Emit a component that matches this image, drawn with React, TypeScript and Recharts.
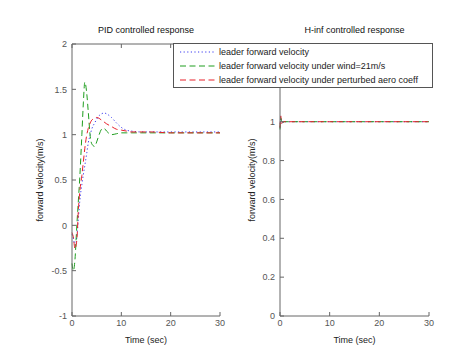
import React from 'react';
import { LineChart, Line, XAxis, YAxis, Legend } from 'recharts';

// ---------- data ----------
const pidTime = [0, 0.3, 0.6, 1, 1.3, 1.6, 2, 2.3, 2.6, 3, 3.3, 3.7, 4, 4.6, 5, 5.5, 6, 6.5, 7, 8, 9, 10, 11, 12, 14, 16, 20, 25, 30];
const pidNominal = [-0.10, -0.15, -0.22, -0.12, 0.08, 0.28, 0.45, 0.56, 0.66, 0.80, 0.91, 1.00, 1.06, 1.13, 1.17, 1.21, 1.23, 1.24, 1.23, 1.19, 1.13, 1.08, 1.05, 1.04, 1.03, 1.03, 1.03, 1.03, 1.03];
const pidWind = [-0.42, -0.50, -0.38, 0.02, 0.28, 0.55, 1.00, 1.35, 1.58, 1.45, 1.25, 0.98, 0.90, 0.87, 0.92, 1.00, 1.06, 1.07, 1.04, 1.00, 1.01, 1.02, 1.02, 1.02, 1.02, 1.02, 1.02, 1.02, 1.02];
const pidPerturbed = [-0.08, -0.14, -0.26, -0.15, 0.18, 0.38, 0.55, 0.70, 0.85, 1.00, 1.07, 1.13, 1.16, 1.18, 1.19, 1.18, 1.16, 1.14, 1.12, 1.09, 1.06, 1.05, 1.04, 1.03, 1.03, 1.03, 1.02, 1.02, 1.02];

const hinfTime = [0, 0.15, 0.3, 0.5, 0.8, 1.2, 2, 5, 10, 20, 30];
const hinfNominal = [0.97, 1.02, 1.0, 0.995, 1.0, 1.0, 1.0, 1.0, 1.0, 1.0, 1.0];
const hinfWind = [0.96, 1.02, 1.005, 0.99, 1.0, 1.0, 1.0, 1.0, 1.0, 1.0, 1.0];
const hinfPerturbed = [0.97, 1.03, 0.99, 1.0, 1.0, 1.0, 1.0, 1.0, 1.0, 1.0, 1.0];

const xTicks = [0, 10, 20, 30];
const pidYTicks = [-1, -0.5, 0, 0.5, 1, 1.5, 2];
const hinfYTicks = [0, 0.2, 0.4, 0.6, 0.8, 1];

const seriesNames = [
  'leader forward velocity',
  'leader forward velocity under wind=21m/s',
  'leader forward velocity under perturbed aero coeff',
];

const pidData = pidTime.map((t, i) => ({ t, a: pidNominal[i], b: pidWind[i], c: pidPerturbed[i] }));
const hinfData = hinfTime.map((t, i) => ({ t, a: hinfNominal[i], b: hinfWind[i], c: hinfPerturbed[i] }));

// ---------- styles ----------
const FONT = '"Liberation Sans", Arial, sans-serif';
const AXIS = '#666';
const TICK_TEXT = '#555';
const COLORS = { a: '#3a3af0', b: '#1f9e1f', c: '#e8202a' } as Record<string, string>;
const DASH = { a: '1.2 2.4', b: '6 3.5', c: '6 3.5' } as Record<string, string>;
const ORDER = ['a', 'b', 'c'];

const emptyTick = () => <g />;

const renderLegend = (props: any) => {
  const payload = [...(props.payload || [])].sort(
    (p: any, q: any) => ORDER.indexOf(p.dataKey) - ORDER.indexOf(q.dataKey)
  );
  return (
    <div
      style={{
        width: 260,
        height: 45,
        boxSizing: 'border-box',
        border: '1px solid #555',
        background: '#fff',
        paddingTop: 1,
        fontFamily: FONT,
        fontSize: 9,
        color: '#222',
      }}
    >
      {payload.map((entry: any, i: number) => {
        const key = entry.dataKey as string;
        return (
          <div key={i} style={{ display: 'flex', alignItems: 'center', height: 14, whiteSpace: 'nowrap' }}>
            <svg width={40} height={8} style={{ marginLeft: 5, flex: 'none' }}>
              <line x1={1} y1={4} x2={36} y2={4} stroke={COLORS[key]} strokeWidth={1} strokeDasharray={DASH[key]} />
            </svg>
            <span>{entry.value}</span>
          </div>
        );
      })}
    </div>
  );
};

function Panel(props: {
  data: any[];
  yDomain: [number, number];
  yTicks: number[];
  marginLeft: number;
  marginRight: number;
  yAxisWidth: number;
  title: string;
  legend?: boolean;
}) {
  const { data, yDomain, yTicks, marginLeft, marginRight, yAxisWidth, title, legend } = props;
  return (
    <div style={{ position: 'absolute', left: 0, top: 0 }}>
      <LineChart
        width={474}
        height={355}
        data={data}
        margin={{ top: 24, right: marginRight, bottom: 9, left: marginLeft }}
      >
        <XAxis
          dataKey="t"
          type="number"
          domain={[0, 30]}
          ticks={xTicks}
          interval={0}
          stroke={AXIS}
          tickSize={-4}
          tickMargin={8}
          height={30}
          tick={{ fontSize: 9, fill: TICK_TEXT, fontFamily: FONT }}
          label={{ value: 'Time (sec)', position: 'insideBottom', offset: 3, fontSize: 9, fill: '#222', fontFamily: FONT }}
        />
        <XAxis
          xAxisId="top"
          orientation="top"
          dataKey="t"
          type="number"
          domain={[0, 30]}
          ticks={xTicks}
          interval={0}
          stroke={AXIS}
          tickSize={-4}
          height={20}
          tick={emptyTick}
          label={{ value: title, position: 'insideTop', offset: 3, fontSize: 9, fill: '#111', fontFamily: FONT }}
        />
        <YAxis
          type="number"
          domain={yDomain}
          ticks={yTicks}
          interval={0}
          allowDataOverflow
          stroke={AXIS}
          tickSize={-4}
          tickMargin={9}
          width={yAxisWidth}
          tick={{ fontSize: 9, fill: TICK_TEXT, fontFamily: FONT }}
          label={{ value: 'forward velocity(m/s)', angle: -90, position: 'center', fontSize: 9, fill: '#222', fontFamily: FONT }}
        />
        <YAxis
          yAxisId="right"
          orientation="right"
          type="number"
          domain={yDomain}
          ticks={yTicks}
          interval={0}
          stroke={AXIS}
          tickSize={-4}
          width={0}
          tick={emptyTick}
        />
        <Line dataKey="a" name={seriesNames[0]} type="monotone" stroke={COLORS.a} strokeWidth={1} strokeDasharray={DASH.a} dot={false} isAnimationActive={false} />
        <Line dataKey="b" name={seriesNames[1]} type="monotone" stroke={COLORS.b} strokeWidth={1} strokeDasharray={DASH.b} dot={false} isAnimationActive={false} />
        <Line dataKey="c" name={seriesNames[2]} type="monotone" stroke={COLORS.c} strokeWidth={1} strokeDasharray={DASH.c} dot={false} isAnimationActive={false} />
        {legend ? (
          <Legend
            layout="vertical"
            align="center"
            verticalAlign="middle"
            content={renderLegend}
            wrapperStyle={{ position: 'absolute', left: 173, top: 43, width: 260, height: 45, zIndex: 10 }}
          />
        ) : null}
      </LineChart>
    </div>
  );
}

export default function App() {
  return (
    <div style={{ position: 'absolute', left: 0, top: 0, width: 474, height: 355, background: '#fff', overflow: 'hidden' }}>
      <Panel
        data={hinfData}
        yDomain={[0, 1.4]}
        yTicks={hinfYTicks}
        marginLeft={224}
        marginRight={45}
        yAxisWidth={56}
        title="H-inf controlled response"
      />
      <Panel
        data={pidData}
        yDomain={[-1, 2]}
        yTicks={pidYTicks}
        marginLeft={8}
        marginRight={254}
        yAxisWidth={64}
        title="PID controlled response"
        legend
      />
    </div>
  );
}
